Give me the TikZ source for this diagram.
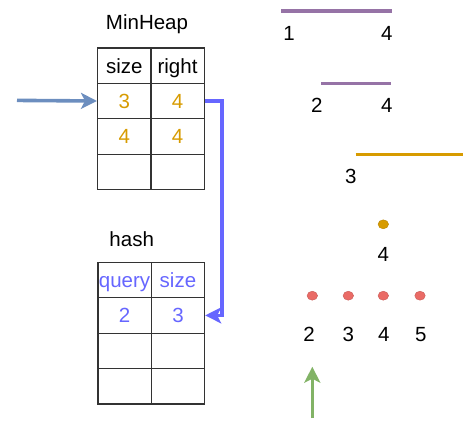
\documentclass[tikz,border=0pt]{standalone}
\usepackage{fontspec}
\setmainfont{Liberation Sans}
\usetikzlibrary{arrows.meta,shapes.geometric}

\definecolor{fioletowy}{HTML}{9673A6}
\definecolor{pomarancz}{HTML}{D79B00}
\definecolor{czerwony}{HTML}{EA6B66}
\definecolor{niebieski}{HTML}{6C8EBF}
\definecolor{indygo}{HTML}{6666FF}
\definecolor{zielony}{HTML}{82B366}

\begin{document}
\begin{tikzpicture}[x=1pt, y=-1pt, font=\fontsize{20.5}{24}\selectfont,
  komorka/.style={draw=black!80, line width=1.2pt, minimum width=53.3pt,
    minimum height=35.4pt, inner sep=0pt, text height=15pt, text depth=0pt,
    anchor=north west},
  etykieta/.style={anchor=base, inner sep=0pt},
  odcinek/.style={line width=3.2pt},
  kropka/.style={ellipse, inner sep=0pt, minimum width=10.5pt,
    minimum height=9pt, fill=#1, draw=#1!85!black, line width=0.4pt},
  strzalka/.style={line width=3.6pt,
    -{Stealth[length=16pt, width=16pt, inset=4pt]}}]
  \useasboundingbox (0,0) rectangle (474,437);

  % kopiec
  \node[etykieta] (tkopiec) at (147,29.5) {MinHeap};
  \foreach \r/\a/\b/\k in {0/size/right/black, 1/3/4/pomarancz,
                            2/4/4/pomarancz, 3/{}/{}/black} {
    \node[komorka, text=\k] (k\r1) at (97,{47.3+35.4*\r}) {\a};
    \node[komorka, text=\k] (k\r2) at (150.3,{47.3+35.4*\r}) {\b};
  }

  % tablica hash
  \node[etykieta] (thash) at (131.7,246.7) {hash};
  \foreach \r/\a/\b/\k in {0/query/size/indygo, 1/2/3/indygo,
                            2/{}/{}/black, 3/{}/{}/black} {
    \node[komorka, text=\k] (h\r1) at (97.3,{261.7+35.4*\r}) {\a};
    \node[komorka, text=\k] (h\r2) at (150.7,{261.7+35.4*\r}) {\b};
  }

  % strzalki
  \coordinate (wejscie) at (17,100.4);
  \draw[strzalka, niebieski] (wejscie) -- (k11.west);
  \draw[strzalka, indygo] (k12.east) -- ++(17,0) |- (h12.east);

  % odcinki
  \draw[odcinek, fioletowy] (281,11) -- (391.7,11);
  \node[etykieta] (a1) at (289,40) {1};
  \node[etykieta] (a4) at (386.7,40) {4};
  \draw[odcinek, fioletowy] (321,83.3) -- (391,83.3);
  \node[etykieta] (b2) at (316.7,112.7) {2};
  \node[etykieta] (b4) at (386.7,112.7) {4};
  \draw[odcinek, pomarancz] (355.7,154.3) -- (462.7,154.3);
  \node[etykieta] (c3) at (350.7,183.3) {3};

  % punkty
  \node[kropka=pomarancz] (d4) at (383.3,224.3) {};
  \node[etykieta] (e4) at (383.3,261.7) {4};
  \foreach \x/\t/\n in {312.3/309/2, 348.3/348.3/3, 383.3/383.7/4, 420/420.7/5} {
    \node[kropka=czerwony] (p\n) at (\x,295.7) {};
    \node[etykieta] (n\n) at (\t,341.7) {\n};
  }

  % wskaznik
  \coordinate (g0) at (312.3,418);
  \coordinate (g1) at (312.3,366.7);
  \draw[strzalka, zielony] (g0) -- (g1);
\end{tikzpicture}
\end{document}
